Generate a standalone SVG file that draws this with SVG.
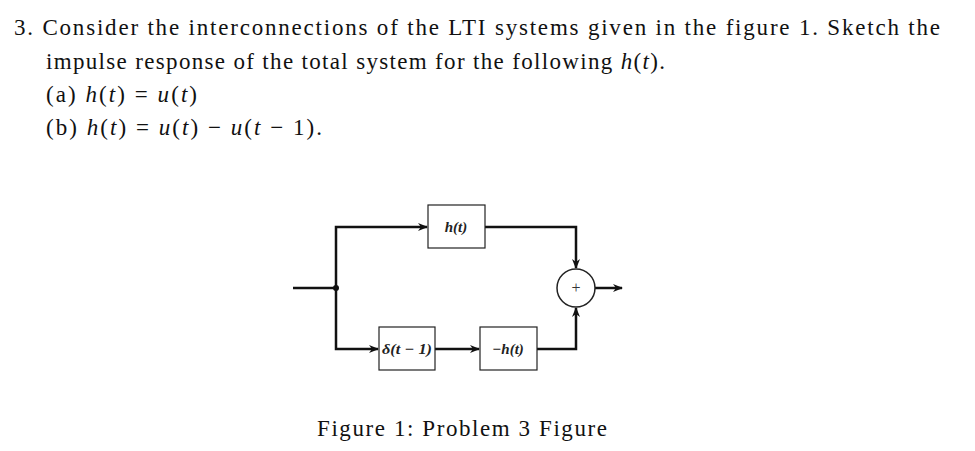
<svg xmlns="http://www.w3.org/2000/svg" width="975" height="451" viewBox="0 0 975 451">
<style>
.t{font-family:"Liberation Serif",serif;font-size:23px;fill:#111}
.b{fill:#fff;stroke:#222;stroke-width:1.2}
.l{fill:none;stroke:#111;stroke-width:2.5}
.bl{font-family:"Liberation Serif",serif;font-size:15px;font-weight:bold;font-style:italic;fill:#222;text-anchor:middle}
</style>
<defs><marker id="a" markerWidth="10" markerHeight="8" refX="9" refY="4" orient="auto" markerUnits="userSpaceOnUse"><path d="M0,0 L10,4 L0,8 L3,4z" fill="#111"/></marker></defs>
<text class="t" x="14" y="35" textLength="926" lengthAdjust="spacing">3. Consider the interconnections of the LTI systems given in the figure 1.  Sketch the</text>
<text class="t" x="46" y="69" textLength="619" lengthAdjust="spacing">impulse response of the total system for the following <tspan font-style="italic">h</tspan>(<tspan font-style="italic">t</tspan>).</text>
<text class="t" x="46" y="102" textLength="151" lengthAdjust="spacing">(a) <tspan font-style="italic">h</tspan>(<tspan font-style="italic">t</tspan>) = <tspan font-style="italic">u</tspan>(<tspan font-style="italic">t</tspan>)</text>
<text class="t" x="46" y="135" textLength="276" lengthAdjust="spacing">(b) <tspan font-style="italic">h</tspan>(<tspan font-style="italic">t</tspan>) = <tspan font-style="italic">u</tspan>(<tspan font-style="italic">t</tspan>) − <tspan font-style="italic">u</tspan>(<tspan font-style="italic">t</tspan> − 1).</text>
<g id="connectors">
<path class="l" d="M293,288 H336"/>
<circle cx="336" cy="288" r="3" fill="#111"/>
<path class="l" d="M336,288 V227 H427" marker-end="url(#a)"/>
<path class="l" d="M485,227 H576 V268" marker-end="url(#a)"/>
<path class="l" d="M336,288 V349 H378" marker-end="url(#a)"/>
<path class="l" d="M435,349 H479" marker-end="url(#a)"/>
<path class="l" d="M537,349 H576 V308" marker-end="url(#a)"/>
<path class="l" d="M595,288 H622" marker-end="url(#a)"/>
</g>
<g id="h"><rect class="b" x="428" y="205" width="57" height="43"/><text class="bl" x="456" y="232">h(t)</text></g>
<g id="delta"><rect class="b" x="379" y="327" width="56" height="43"/><text class="bl" x="407" y="354" font-style="normal" textLength="50" lengthAdjust="spacingAndGlyphs">δ(<tspan font-style="italic">t</tspan> − 1)</text></g>
<g id="negh"><rect class="b" x="480" y="327" width="57" height="43"/><text class="bl" x="508" y="354">−h(t)</text></g>
<g id="sum"><circle cx="576" cy="288" r="19" fill="#fff" stroke="#222" stroke-width="1.5"/><text x="576" y="293" font-family="Liberation Serif,serif" font-size="16" text-anchor="middle" fill="#333">+</text></g>
<text class="t" x="317" y="436" textLength="290" lengthAdjust="spacing">Figure 1: Problem 3 Figure</text>
</svg>
